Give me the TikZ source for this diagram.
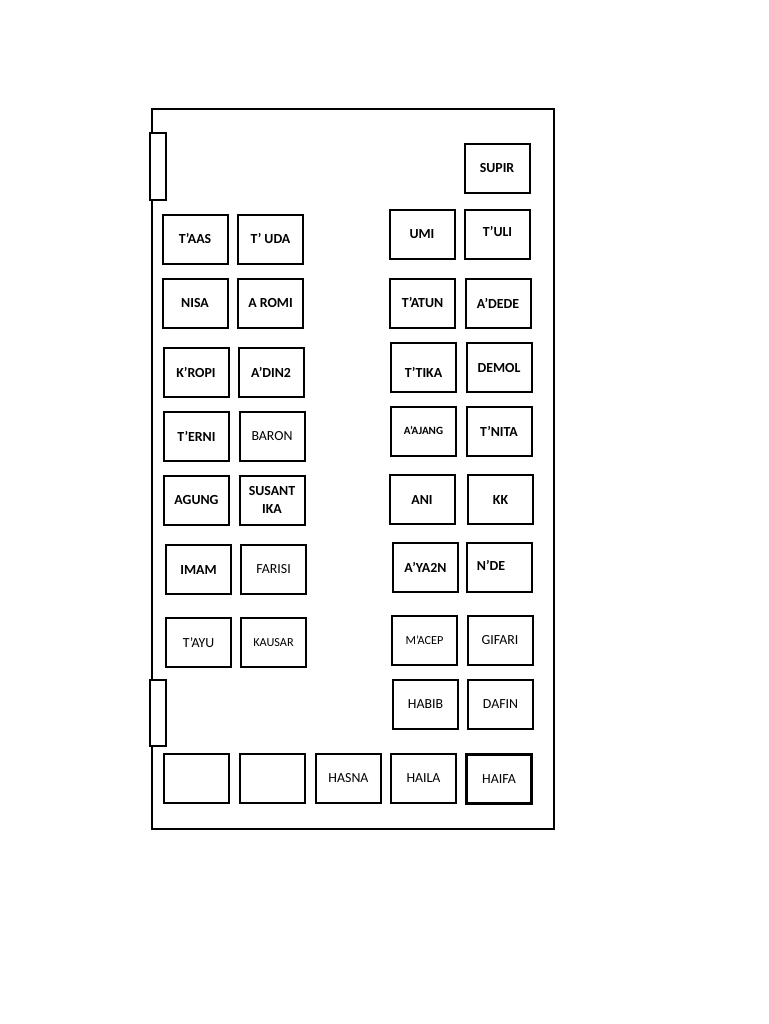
\documentclass[tikz,border=0pt]{standalone}
\usepackage{fontspec}
\setmainfont{Carlito}
\begin{document}
\begin{tikzpicture}[x=0.75pt,y=-0.75pt,
  seat/.style={draw, line width=1.5pt, minimum width=48.75pt, minimum height=36.75pt, inner sep=0pt, align=center, font=\bfseries\fontsize{10.4}{14}\selectfont},
  plain/.style={font=\fontsize{10.4}{14}\selectfont},
  small/.style={font=\fontsize{9.2}{11}\selectfont},
  lbl/.style={inner sep=0pt, font=\bfseries\fontsize{10.4}{14}\selectfont},
  door/.style={draw, line width=1.5pt, fill=white}]
\useasboundingbox (0,0) rectangle (768,1024);
% bus body
\draw[line width=1.5pt] (152,109) rectangle (554,829);
\node[door, minimum width=12pt, minimum height=50pt, inner sep=0pt] (door1) at (158,166.5) {};
\node[door, minimum width=12pt, minimum height=49.5pt, inner sep=0pt] (door2) at (158,713) {};
% front
\node[seat] (supir) at (497,168) {SUPIR};
% left column rows
\node[seat] (taas) at (195,239) {T’AAS};
\node[seat] (tuda) at (270.5,239) {T’ UDA};
\node[seat] (nisa) at (195,303) {NISA};
\node[seat] (aromi) at (270.5,303) {A ROMI};
\node[seat] (kropi) at (196,372.5) {K’ROPI};
\node[seat] (adin) at (271,372.5) {A’DIN2};
\node[seat] (terni) at (196.5,436) {T’ERNI};
\node[seat, plain] (baron) at (272,436) {BARON};
\node[seat] (agung) at (196.5,500) {AGUNG};
\node[seat] (susantika) at (272,500) {SUSANT\\IKA};
\node[seat] (imam) at (198.5,569.5) {IMAM};
\node[seat, plain] (farisi) at (273.5,569.5) {FARISI};
\node[seat, plain] (tayu) at (198.5,642.5) {T’AYU};
\node[seat, small] (kausar) at (273.5,642.5) {KAUSAR};
% right column rows
\node[seat] (umi) at (422,234.5) {UMI};
\node[seat] (tuli) at (497.5,234.5) {};
\node[lbl] (tulit) at (497.5,232) {T’ULI};
\node[seat] (tatun) at (422.5,303) {T’ATUN};
\node[seat] (adede) at (498,303) {A’DEDE};
\node[seat] (ttika) at (423.5,367.5) {};
\node[lbl] (ttikat) at (423.5,372) {T’TIKA};
\node[seat] (demol) at (499,367.5) {DEMOL};
\node[seat, font=\bfseries\fontsize{8.3}{9}\selectfont] (aajang) at (423.5,431) {A’AJANG};
\node[seat] (tnita) at (499,431) {T’NITA};
\node[seat] (ani) at (422,499.5) {ANI};
\node[seat] (kk) at (500.5,499.5) {KK};
\node[seat] (ayan) at (425.5,567.5) {A’YA2N};
\node[seat] (nde) at (499.5,567.5) {};
\node[lbl] (ndet) at (491,565) {N’DE};
\node[seat, small] (macep) at (424.5,640.5) {M’ACEP};
\node[seat, plain] (gifari) at (500,640.5) {GIFARI};
\node[seat, plain] (habib) at (425.5,704.5) {HABIB};
\node[seat, plain] (dafin) at (500.5,704.5) {DAFIN};
% back row
\node[seat] (back1) at (196.5,778.5) {};
\node[seat] (back2) at (272,778.5) {};
\node[seat, plain] (hasna) at (348.5,778.5) {HASNA};
\node[seat, plain] (haila) at (423.5,778.5) {HAILA};
\node[seat, plain, line width=1.8pt] (haifa) at (499,779) {HAIFA};
\end{tikzpicture}
\end{document}
